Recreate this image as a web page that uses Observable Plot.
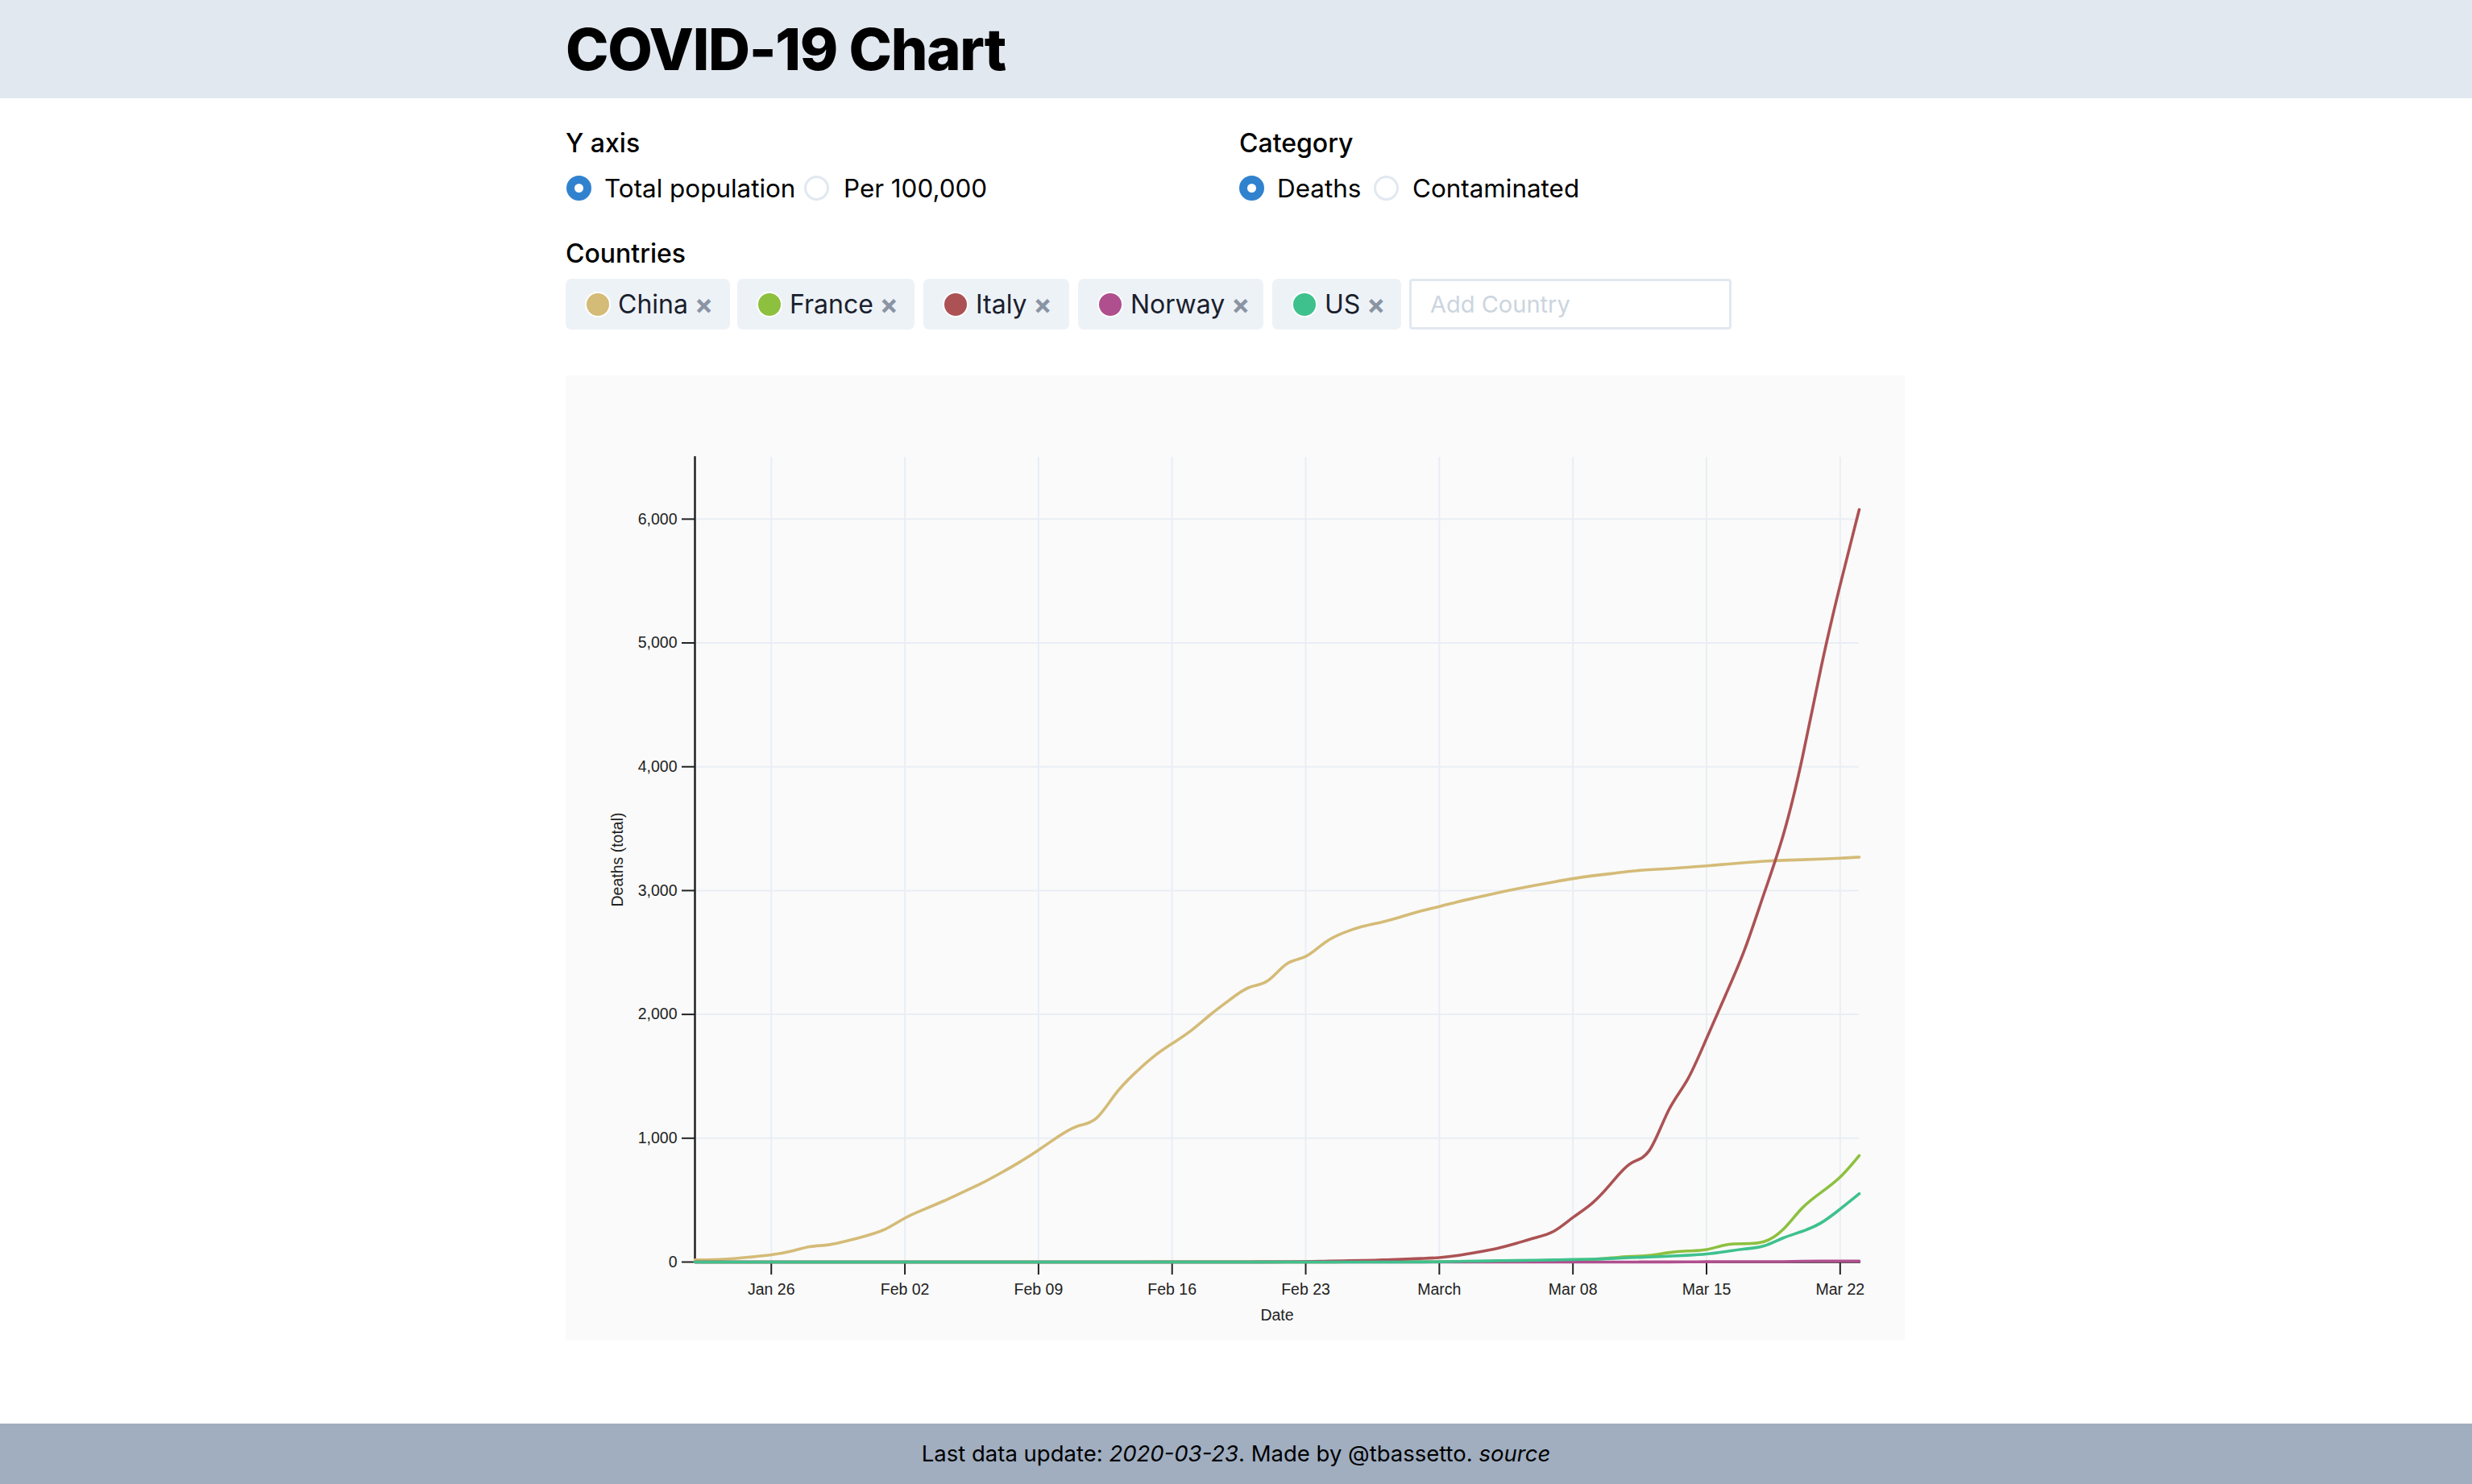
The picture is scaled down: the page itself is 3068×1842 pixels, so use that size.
<!DOCTYPE html>
<html>
<head>
<meta charset="utf-8">
<script src="https://cdn.jsdelivr.net/npm/d3@7"></script>
<script src="https://cdn.jsdelivr.net/npm/@observablehq/plot@0.6"></script>
<style>
  html, body { margin: 0; padding: 0; background: #fff; }
  body { width: 3068px; height: 1842px; position: relative; overflow: hidden; font-family: Inter, "Noto Sans", sans-serif; color: #1a202c; }
  header { position: absolute; left: 0; top: 0; width: 100%; height: 122px; background: #e2e8f0; }
  .wrap { position: absolute; left: 702px; top: 0; width: 1662px; height: 1842px; }
  h1 { position: absolute; left: 0; top: 0; margin: 0; font-size: 72px; line-height: 122px; font-weight: 800; color: #000; letter-spacing: -1.3px; }
  .lbl { position: absolute; font-size: 32px; line-height: 32px; font-weight: 500; color: #000; white-space: nowrap; }
  .radio { position: absolute; width: 31px; height: 31px; box-sizing: border-box; border-radius: 50%; }
  .radio.on { background: #fff; border: 10px solid #3182ce; }
  .radio.off { background: #fff; border: 3px solid #e2e8f0; }
  .rtext { position: absolute; font-size: 31.4px; line-height: 32px; font-weight: 400; color: #000; white-space: nowrap; }
  .tag { position: absolute; top: 346px; height: 63px; background: #edf2f7; border-radius: 7px; display: flex; align-items: center; box-sizing: border-box; padding-left: 24px; }
  .dot { width: 32px; height: 32px; border-radius: 50%; border: 2px solid #fff; box-sizing: border-box; margin-right: 9px; }
  .tname { font-size: 32px; line-height: 32px; color: #1a202c; }
  .x { font-size: 34px; line-height: 32px; color: #8a94a3; font-weight: 700; margin-left: 8px; }
  .input { position: absolute; top: 346px; left: 1047px; width: 400px; height: 63px; box-sizing: border-box; border: 3px solid #e2e8f0; border-radius: 4px; background: #fff; font-size: 29px; line-height: 57px; padding-left: 23px; color: #cbd5e0; }
  #chart { position: absolute; left: 0; top: 466px; }
  footer { position: absolute; left: 0; top: 1767px; width: 100%; height: 75px; background: #a0aec0; text-align: center; font-size: 27.5px; line-height: 75px; color: #000; }
  footer i { font-style: italic; }
</style>
</head>
<body>
<header></header>
<div class="wrap">
  <h1>COVID-19 Chart</h1>
  <div class="lbl" style="left:0; top:162px;">Y axis</div>
  <div class="radio on" style="left:1px; top:218px;"></div>
  <div class="rtext" style="left:48px; top:218px;">Total population</div>
  <div class="radio off" style="left:296px; top:218px;"></div>
  <div class="rtext" style="left:345px; top:218px;">Per 100,000</div>

  <div class="lbl" style="left:836px; top:162px;">Category</div>
  <div class="radio on" style="left:836px; top:218px;"></div>
  <div class="rtext" style="left:883px; top:218px;">Deaths</div>
  <div class="radio off" style="left:1003px; top:218px;"></div>
  <div class="rtext" style="left:1051px; top:218px;">Contaminated</div>

  <div class="lbl" style="left:0; top:299px;">Countries</div>
  <div id="tags"></div>
  <div class="input">Add Country</div>
  <div id="chart"></div>
</div>
<footer>Last data update: <i>2020-03-23</i>. Made by @tbassetto. <i>source</i></footer>
<script>
const countries = ["China", "France", "Italy", "Norway", "US"];
const colors = ["#d4bb77", "#8dc03f", "#ac5254", "#af4f8e", "#3ec18d"];
const tagLefts = [0, 213, 444, 636, 877];
const tagWidths = [204, 220, 181, 230, 160];

const startDate = "2020-01-22";
const endDate = "2020-03-23";

// Daily totals, Jan 22 .. Mar 23 (62 days)
const china = [17,18,26,42,56,82,131,133,171,213,
  259,361,425,490,562,632,717,804,904,1011,1111,1116,1368,1520,1662,1765,1863,2002,2114,2236,2236,2441,2443,2593,2663,2715,2744,2788,2835,
  2870,2912,2945,2981,3013,3042,3070,3097,3120,3136,3158,3169,3176,3189,3199,3213,3226,3237,3245,3249,3255,3261,3270];
const france = [0,0,0,0,0,0,0,0,0,0,
  0,0,0,0,0,0,0,0,0,0,0,0,0,0,1,1,1,1,1,1,1,1,1,1,1,2,2,2,2,
  2,3,4,4,6,9,11,19,19,33,48,48,79,91,91,148,148,148,243,450,562,674,860];
const italy = [0,0,0,0,0,0,0,0,0,0,
  0,0,0,0,0,0,0,0,0,0,0,0,0,0,0,0,0,0,0,0,1,2,3,7,10,12,17,21,29,
  34,52,79,107,148,197,233,366,463,631,827,827,1266,1441,1809,2158,2503,2978,3405,4032,4825,5476,6077];
const norway = [0,0,0,0,0,0,0,0,0,0,
  0,0,0,0,0,0,0,0,0,0,0,0,0,0,0,0,0,0,0,0,0,0,0,0,0,0,0,0,0,
  0,0,0,0,0,0,0,0,0,0,0,1,1,1,3,3,3,3,3,7,7,7,7];
const us = [0,0,0,0,0,0,0,0,0,0,
  0,0,0,0,0,0,0,0,0,0,0,0,0,0,0,0,0,0,0,0,0,0,0,0,0,0,0,0,1,
  1,6,7,11,12,14,17,21,22,28,36,40,47,54,63,85,108,118,200,244,307,427,552];

const yTicks = [0, 1000, 2000, 3000, 4000, 5000, 6000];
const yMax = 6500;
const xTickDates = ["2020-01-26","2020-02-02","2020-02-09","2020-02-16","2020-02-23","2020-03-01","2020-03-08","2020-03-15","2020-03-22"];
const xTickLabels = ["Jan 26","Feb 02","Feb 09","Feb 16","Feb 23","March","Mar 08","Mar 15","Mar 22"];

// tags
const tagsEl = document.getElementById("tags");
countries.forEach((c, i) => {
  const t = document.createElement("div");
  t.className = "tag";
  t.style.left = tagLefts[i] + "px";
  t.style.width = tagWidths[i] + "px";
  t.innerHTML = `<span class="dot" style="background:${colors[i]}"></span><span class="tname">${c}</span><span class="x">×</span>`;
  tagsEl.appendChild(t);
});

const series = {China: china, France: france, Italy: italy, Norway: norway, US: us};
const days = d3.utcDay.range(new Date(startDate), d3.utcDay.offset(new Date(endDate), 1));
const data = [];
for (const c of countries) {
  series[c].forEach((v, i) => data.push({country: c, date: days[i], value: v}));
}
const xTicks = xTickDates.map(d => new Date(d));
const fmt = d => xTickLabels[xTickDates.indexOf(d3.utcFormat("%Y-%m-%d")(d))];

const chart = Plot.plot({
  width: 1662,
  height: 1197,
  marginLeft: 160,
  marginRight: 57,
  marginTop: 101,
  marginBottom: 97,
  style: {background: "#fafafa", fontFamily: "'Liberation Sans', Arial, sans-serif", fontSize: "19.5px", color: "#222"},
  x: {type: "utc", domain: [new Date(startDate), new Date(endDate)]},
  y: {domain: [0, yMax]},
  color: {domain: countries, range: colors},
  marks: [
    Plot.gridX(xTicks, {stroke: "#e9eef5", strokeOpacity: 1, strokeWidth: 2}),
    Plot.gridY(yTicks, {stroke: "#e9eef5", strokeOpacity: 1, strokeWidth: 2}),
    Plot.axisX(xTicks, {tickFormat: fmt, tickSize: 16, tickPadding: 11, strokeWidth: 2, stroke: "#222", fill: "#222",
      label: "Date", labelAnchor: "center", labelOffset: 72, labelArrow: "none"}),
    Plot.axisY(yTicks, {tickFormat: d3.format(","), tickSize: 16, tickPadding: 6, strokeWidth: 2, stroke: "#222", fill: "#222",
      label: "Deaths (total)", labelAnchor: "center", labelOffset: 103, labelArrow: "none"}),
    Plot.frame({anchor: "left", stroke: "#222", strokeWidth: 2.5}),
    Plot.frame({anchor: "bottom", stroke: "#222", strokeWidth: 2.5}),
    Plot.lineY(data, {x: "date", y: "value", z: "country", stroke: "country", strokeWidth: 3.6, curve: "basis"})
  ]
});
document.getElementById("chart").appendChild(chart);
</script>
</body>
</html>
